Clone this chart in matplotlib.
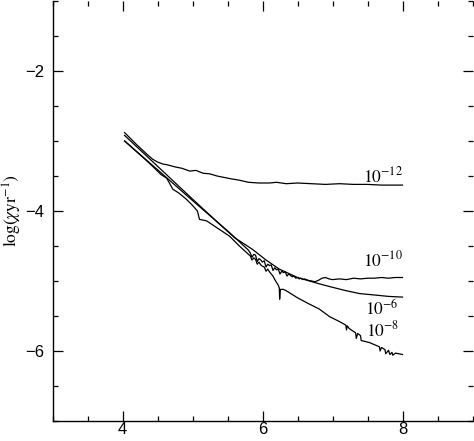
import numpy as np
import matplotlib.pyplot as plt
from matplotlib.ticker import MultipleLocator

plt.rcParams['mathtext.fontset'] = 'stix'
plt.rcParams['font.family'] = ['Liberation Sans', 'DejaVu Sans']

# curve 10^-12
x_12 = [4.03, 4.2, 4.35, 4.43, 4.5, 4.58, 4.64, 4.75, 4.85, 4.96, 5.05, 5.15, 5.25, 5.35,
        5.45, 5.55, 5.67, 5.8, 5.95, 6.1, 6.2, 6.34, 6.5, 6.7, 6.9, 7.1, 7.3, 7.5, 7.7, 8.0]
y_12 = [-2.88, -3.05, -3.19, -3.26, -3.30, -3.33, -3.34, -3.37, -3.39, -3.43, -3.42, -3.46, -3.47, -3.50,
        -3.52, -3.54, -3.56, -3.59, -3.60, -3.60, -3.59, -3.61, -3.60, -3.61, -3.62, -3.61, -3.62, -3.62, -3.63, -3.63]

# curve 10^-6
x_6 = [4.03, 4.5, 5.0, 5.39, 5.6, 5.86, 6.05, 6.24, 6.5, 6.81, 7.0, 7.2, 7.39, 7.6, 7.8, 8.0]
y_6 = [-2.92, -3.36, -3.83, -4.19, -4.38, -4.55, -4.70, -4.83, -4.95, -5.04, -5.09, -5.14, -5.18, -5.20, -5.22, -5.23]

# curve 10^-10
x_10 = [4.03, 4.5, 5.0, 5.53, 5.8, 5.825, 5.85, 5.875, 5.9, 5.925, 5.95, 5.975, 6.0, 6.025, 6.05,
        6.075, 6.1, 6.125, 6.15, 6.175, 6.2, 6.225, 6.25, 6.275, 6.3, 6.325, 6.35, 6.375, 6.4,
        6.425, 6.45, 6.475, 6.5, 6.525, 6.55, 6.575, 6.6, 6.65, 6.7, 6.75, 6.8, 6.85, 6.9, 6.95,
        7.0, 7.1, 7.2, 7.3, 7.4, 7.5, 7.6, 7.7, 7.8, 7.9, 8.0]
y_10 = [-3.00, -3.41, -3.85, -4.31, -4.56, -4.60, -4.66, -4.62, -4.63, -4.72, -4.68, -4.70, -4.73, -4.71, -4.80,
        -4.76, -4.78, -4.77, -4.85, -4.81, -4.84, -4.83, -4.90, -4.86, -4.88, -4.87, -4.93, -4.90, -4.92,
        -4.94, -4.93, -4.96, -4.95, -4.97, -4.96, -4.98, -4.97, -4.99, -5.00, -5.01, -4.99, -4.96, -4.95, -4.97,
        -4.98, -4.97, -4.98, -4.96, -4.97, -4.96, -4.96, -4.95, -4.96, -4.95, -4.95]

# curve 10^-8
x_8 = [4.03, 4.3, 4.45, 4.55, 4.63, 4.67, 4.72, 4.8, 4.91, 5.0, 5.07, 5.1, 5.15, 5.2, 5.35, 5.53, 5.67,
       5.8, 5.825, 5.85, 5.875, 5.9, 5.925, 5.95, 5.975, 6.0, 6.025, 6.05, 6.075, 6.1, 6.125, 6.15,
       6.175, 6.2, 6.225, 6.24, 6.245, 6.255, 6.3, 6.34, 6.5, 6.65, 6.81, 6.96, 7.1, 7.19, 7.2, 7.21,
       7.24, 7.33, 7.34, 7.36, 7.4, 7.41, 7.53, 7.67, 7.68, 7.7, 7.75, 7.76, 7.8, 7.82, 7.85, 7.86,
       7.9, 8.0]
y_8 = [-3.00, -3.24, -3.38, -3.48, -3.53, -3.60, -3.69, -3.74, -3.83, -3.92, -4.00, -4.12, -4.13, -4.14,
       -4.24, -4.36, -4.50, -4.62, -4.64, -4.70, -4.67, -4.69, -4.76, -4.73, -4.77, -4.79, -4.80, -4.86,
       -4.83, -4.87, -4.90, -4.93, -4.98, -5.02, -5.06, -5.10, -5.26, -5.12, -5.12, -5.14, -5.24, -5.32,
       -5.40, -5.51, -5.58, -5.63, -5.70, -5.64, -5.68, -5.74, -5.82, -5.75, -5.78, -5.85, -5.88, -5.94,
       -6.00, -5.95, -5.98, -6.04, -5.99, -6.05, -6.02, -6.06, -6.03, -6.05]

labels = [r'$10^{-12}$', r'$10^{-10}$', r'$10^{-6}$', r'$10^{-8}$']
label_x = [8.0, 8.0, 7.95, 7.95]
label_y = [-3.50, -4.71, -5.39, -5.71]

fig = plt.figure(figsize=(4.74, 4.41), dpi=100)
ax = fig.add_axes([52.5 / 474, 20 / 441, 420 / 474, 420 / 441])

for xs, ys in [(x_12, y_12), (x_6, y_6), (x_10, y_10), (x_8, y_8)]:
    ax.plot(xs, ys, color='black', lw=0.9)

for t, tx, ty in zip(labels, label_x, label_y):
    ax.text(tx, ty, t, ha='right', va='center', fontsize=12.5, family='STIXGeneral')

ax.set_xlim(3, 9)
ax.set_ylim(-7, -1)
ax.xaxis.set_major_locator(MultipleLocator(2))
ax.xaxis.set_minor_locator(MultipleLocator(0.5))
ax.yaxis.set_major_locator(MultipleLocator(2))
ax.yaxis.set_minor_locator(MultipleLocator(0.5))
ax.tick_params(which='both', direction='in', top=True, right=True, width=0.9, labelsize=12)
ax.tick_params(which='major', length=7.5)
ax.tick_params(which='minor', length=3.8)
ax.tick_params(axis='x', pad=1)
ax.tick_params(axis='y', pad=6)
ax.spines['top'].set_visible(False)
ax.spines['right'].set_visible(False)
for s in ['left', 'bottom']:
    ax.spines[s].set_linewidth(1.0)

ax.set_ylabel(r'log($\chi$yr$^{-1}$)', fontsize=12.5, family='STIXGeneral')
ax.yaxis.set_label_coords(-0.068, 0.5)

fig.savefig('out.png', dpi=100)
